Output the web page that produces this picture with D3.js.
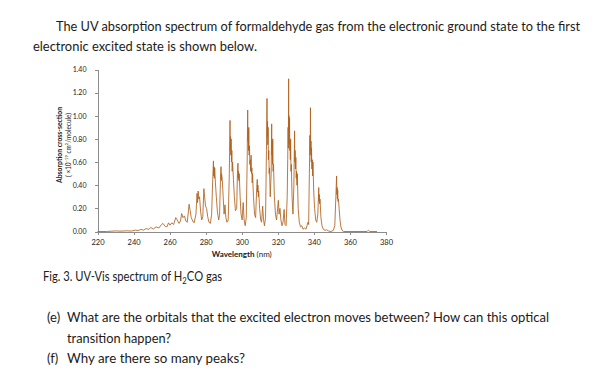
<!DOCTYPE html>
<html>
  <head>
    <title>H2CO UV spectrum</title>
    <style>
      body { margin: 0; background: #fff; }
      text { fill: #1b1b1b; }
      .para { font-family: Lato, "Open Sans", sans-serif; font-size: 13px; }
      .tick-lbl { font-family: Lato, "Liberation Sans", sans-serif; font-size: 7px; fill: #222; }
      .axis path, .axis line { stroke: #8c8c8c; stroke-width: 1px; shape-rendering: crispEdges; }
    </style>
    <script src="https://cdn.jsdelivr.net/npm/d3@7"></script>
  </head>
  <body>
    <div id="chart"></div>
    <script type="text/javascript">
      // spectrum: [wavelength nm, cross-section x1e-19]
      var spectrum = [
        [220,0.00],[225,0.00],[230,0.005],[233,0.003],[236,0.006],[239,0.004],[241,0.012],[242.5,0.008],
        [244,0.018],[245.5,0.012],[247,0.025],[248.5,0.018],[249.5,0.035],[251,0.022],[252.5,0.04],[254,0.03],
        [255.5,0.06],[256.3,0.07],[257.5,0.045],[258.5,0.04],[259.4,0.075],[260.2,0.055],[261.2,0.075],[262.2,0.06],
        [263.4,0.12],[264.2,0.10],[265.2,0.07],[266.0,0.09],[266.7,0.155],[267.4,0.12],[268.2,0.135],[269.0,0.09],
        [269.8,0.08],[270.8,0.235],[271.4,0.18],[272.0,0.12],[272.8,0.09],[273.6,0.075],[274.6,0.15],[275.2,0.33],
        [275.5,0.25],[275.8,0.35],[276.2,0.28],[276.6,0.30],[277.2,0.17],[277.8,0.10],[278.4,0.13],[279.0,0.37],
        [279.4,0.30],[279.9,0.22],[280.5,0.20],[281.1,0.13],[281.8,0.08],[282.6,0.07],[283.3,0.15],[283.9,0.45],
        [284.3,0.61],[284.45,0.48],[284.6,0.56],[284.8,0.46],[285.0,0.55],[285.4,0.42],[285.9,0.30],[286.5,0.17],
        [287.2,0.10],[287.7,0.14],[288.2,0.45],[288.5,0.56],[288.65,0.44],[288.8,0.50],[289.2,0.45],[289.7,0.30],
        [290.2,0.15],[290.7,0.23],[291.2,0.12],[291.8,0.08],[292.5,0.10],[293.1,0.50],[293.5,0.96],[293.65,0.70],
        [293.8,0.82],[293.95,0.66],[294.1,0.80],[294.3,0.60],[294.5,0.70],[294.7,0.52],[294.9,0.60],[295.4,0.45],
        [295.9,0.30],[296.5,0.18],[297.2,0.20],[297.6,0.50],[297.9,0.59],[298.05,0.46],[298.2,0.52],[298.4,0.44],
        [298.6,0.50],[299.1,0.30],[299.6,0.15],[300.2,0.10],[300.8,0.25],[301.3,0.10],[301.9,0.05],[302.5,0.12],
        [303.0,0.60],[303.3,1.05],[303.45,0.78],[303.6,0.88],[303.75,0.70],[303.9,0.90],[304.1,0.66],[304.3,0.74],
        [304.5,0.58],[304.7,0.62],[304.95,0.52],[305.2,0.66],[305.4,0.50],[305.6,0.55],[305.8,0.42],[306.0,0.50],
        [306.5,0.30],[307.1,0.15],[307.7,0.12],[308.3,0.38],[308.6,0.45],[308.8,0.34],[309.0,0.40],[309.2,0.30],
        [309.4,0.35],[309.9,0.20],[310.5,0.10],[311.0,0.08],[311.6,0.22],[312.1,0.10],[312.6,0.05],[313.2,0.12],
        [313.7,0.70],[314.0,1.15],[314.15,0.82],[314.3,0.95],[314.45,0.75],[314.6,0.90],[314.8,0.62],[315.0,0.70],
        [315.2,0.50],[315.4,0.55],[315.8,0.30],[316.3,0.50],[316.6,0.93],[316.75,0.66],[316.9,0.78],[317.05,0.58],
        [317.2,0.80],[317.4,0.52],[317.6,0.58],[318.1,0.30],[318.7,0.15],[319.3,0.10],[319.9,0.20],[320.3,0.27],
        [320.7,0.15],[321.2,0.20],[321.7,0.10],[322.3,0.05],[322.9,0.08],[323.5,0.19],[324.0,0.06],[324.6,0.05],
        [325.2,0.30],[325.5,0.62],[325.7,0.90],[325.85,0.72],[326.0,1.32],[326.1,0.88],[326.2,1.00],[326.35,0.76],
        [326.5,0.98],[326.65,0.70],[326.8,0.78],[326.95,0.62],[327.1,0.80],[327.3,0.52],[327.5,0.58],[327.9,0.30],
        [328.4,0.15],[328.9,0.40],[329.3,0.87],[329.45,0.60],[329.6,0.70],[329.8,0.54],[330.0,0.64],[330.2,0.46],
        [330.4,0.52],[330.6,0.40],[330.8,0.50],[331.3,0.20],[331.9,0.08],[332.6,0.04],[333.3,0.05],[334.0,0.02],
        [334.8,0.03],[335.6,0.02],[336.2,0.05],[336.7,0.08],[337.1,0.06],[337.5,0.50],[337.8,0.83],[337.95,0.66],
        [338.1,1.07],[338.25,0.70],[338.4,0.78],[338.55,0.60],[338.7,0.72],[338.9,0.54],[339.1,0.62],[339.3,0.48],
        [339.5,0.60],[339.9,0.35],[340.4,0.20],[341.0,0.10],[341.6,0.08],[342.2,0.15],[342.7,0.38],[342.85,0.26],
        [343.0,0.32],[343.2,0.24],[343.4,0.28],[343.9,0.12],[344.5,0.05],[345.2,0.02],[346.2,0.01],[347.1,0.015],
        [348.0,0.005],[349.5,0.00],[350.8,0.01],[351.6,0.05],[352.2,0.30],[352.6,0.48],[352.75,0.32],[352.9,0.38],
        [353.05,0.28],[353.2,0.36],[353.4,0.26],[353.6,0.28],[354.0,0.20],[354.5,0.10],[355.0,0.04],[355.6,0.01],
        [356.5,0.00],[360,0.00],[365,0.00],[369.5,0.00],[370.2,0.012],[371,0.00],[375,0.00]
      ];
      var xTicks = [220, 240, 260, 280, 300, 320, 340, 360, 380];
      var yTicks = [0, 0.2, 0.4, 0.6, 0.8, 1.0, 1.2, 1.4];

      var introLines = [
        "The UV absorption spectrum of formaldehyde gas from the electronic ground state to the first",
        "electronic excited state is shown below."
      ];
      var questionLines = [
        ["(e)", "What are the orbitals that the excited electron moves between? How can this optical"],
        ["", "transition happen?"],
        ["(f)", "Why are there so many peaks?"]
      ];

      var width = 599, height = 370;
      var svg = d3.select("#chart").append("svg")
        .attr("width", width)
        .attr("height", height);

      // paragraph text
      svg.append("text").attr("class", "para")
        .attr("x", 56).attr("y", 31)
        .attr("textLength", 524).attr("lengthAdjust", "spacingAndGlyphs")
        .text(introLines[0]);
      svg.append("text").attr("class", "para")
        .attr("x", 33).attr("y", 51)
        .attr("textLength", 224).attr("lengthAdjust", "spacingAndGlyphs")
        .text(introLines[1]);

      var x = d3.scaleLinear().domain([220, 380]).range([97.5, 386]);
      var y = d3.scaleLinear().domain([0, 1.4]).range([231.5, 69.5]);

      var xAxis = svg.append("g").attr("class", "axis")
        .attr("transform", "translate(0," + y(0) + ")")
        .call(d3.axisBottom(x).tickValues(xTicks).tickSize(3).tickSizeOuter(0).tickFormat(d3.format("d")));
      xAxis.selectAll("text").attr("class", "tick-lbl").style("font-size", "7.5px").attr("dy", "0.9em").attr("y", 7);

      var yAxis = svg.append("g").attr("class", "axis")
        .attr("transform", "translate(" + x(220) + ",0)")
        .call(d3.axisLeft(y).tickValues(yTicks).tickSize(3).tickSizeOuter(0).tickFormat(d3.format(".2f")));
      yAxis.selectAll("text").attr("class", "tick-lbl").attr("x", -11);

      var line = d3.line()
        .x(function(d){ return x(d[0]); })
        .y(function(d){ return y(d[1]); });

      svg.append("path")
        .datum(spectrum)
        .attr("d", line)
        .attr("fill", "none")
        .attr("stroke", "#b0611c")
        .attr("stroke-width", 0.85)
        .attr("stroke-linejoin", "round");

      // axis titles
      var xt = svg.append("text")
        .attr("x", (x(220) + x(380)) / 2).attr("y", 256.5)
        .attr("text-anchor", "middle")
        .attr("textLength", 60).attr("lengthAdjust", "spacingAndGlyphs")
        .style("font-family", "Lato, sans-serif").style("font-size", "7px");
      xt.append("tspan").style("font-weight", "bold").text("Wavelength");
      xt.append("tspan").text(" (nm)");

      var yt = svg.append("g").attr("transform", "translate(62,145) rotate(-90)");
      yt.append("text").attr("text-anchor", "middle")
        .attr("textLength", 76).attr("lengthAdjust", "spacingAndGlyphs")
        .style("font-family", "Lato, sans-serif").style("font-size", "7px").style("font-weight", "bold")
        .text("Absorption cross-section");
      var yt2 = yt.append("g").attr("transform", "translate(0,8.5) scale(0.92,1)")
        .append("text").attr("text-anchor", "middle")
        .style("font-family", "Lato, sans-serif").style("font-size", "7px");
      yt2.append("tspan").text("( \u00d710");
      yt2.append("tspan").attr("dy", -2.5).style("font-size", "4.5px").text("\u221219");
      yt2.append("tspan").attr("dy", 2.5).text(" cm");
      yt2.append("tspan").attr("dy", -2.5).style("font-size", "4.5px").text("2");
      yt2.append("tspan").attr("dy", 2.5).text("/molecule)");

      // caption (squeezed horizontally to the reference width)
      var cap = svg.append("g").attr("transform", "translate(43,281) scale(0.86,1)")
        .append("text").attr("class", "para");
      cap.append("tspan").text("Fig. 3. UV-Vis spectrum of H");
      cap.append("tspan").attr("dy", 2.5).style("font-size", "9px").text("2");
      cap.append("tspan").attr("dy", -2.5).text("CO gas");

      // questions
      var qy = [322, 343, 363];
      var qlen = [482, 104, 178];
      questionLines.forEach(function(q, i) {
        if (q[0]) {
          svg.append("text").attr("class", "para").attr("x", 47).attr("y", qy[i]).text(q[0]);
        }
        svg.append("text").attr("class", "para").attr("x", 67).attr("y", qy[i])
          .attr("textLength", qlen[i]).attr("lengthAdjust", "spacingAndGlyphs")
          .text(q[1]);
      });
    </script>
  </body>
</html>
